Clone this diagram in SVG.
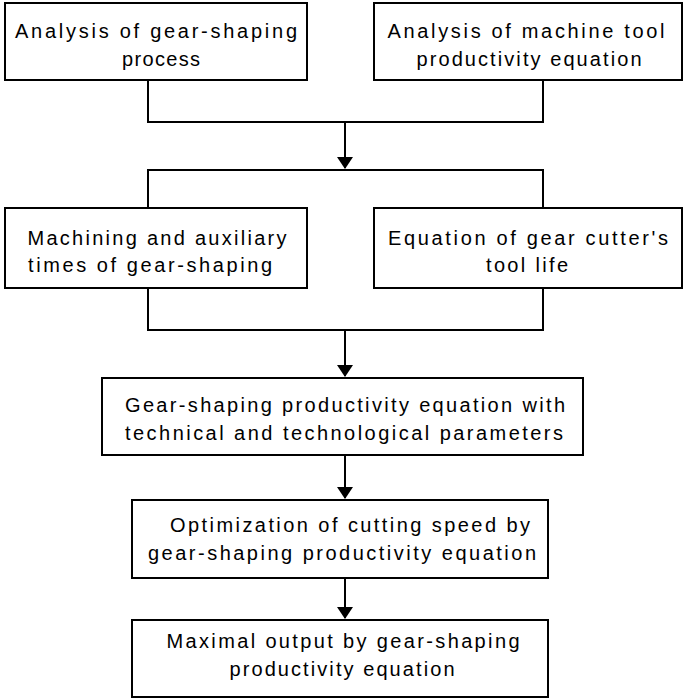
<svg xmlns="http://www.w3.org/2000/svg" width="685" height="700" viewBox="0 0 685 700">
<style>
rect{fill:#fff;stroke:#000;stroke-width:2}
text{font-family:"Liberation Sans",Arial,sans-serif;font-size:20px;text-anchor:middle;fill:#000}
.c{fill:none;stroke:#000;stroke-width:2}
</style>
<defs><marker id="a" markerWidth="12" markerHeight="16" refX="11" refY="8" orient="auto" markerUnits="userSpaceOnUse"><path d="M0,0L12,8L0,16z" fill="#000"/></marker></defs>
<rect width="685" height="700" style="stroke:none"/>
<g id="connectors">
<path class="c" d="M148,80V122H543V80M345,122V168" marker-end="url(#a)"/>
<path class="c" d="M148,208V170H543V208"/>
<path class="c" d="M148,288V330H543V288M345,330V376" marker-end="url(#a)"/>
<path class="c" d="M345,455V498" marker-end="url(#a)"/>
<path class="c" d="M345,578V618" marker-end="url(#a)"/>
</g>
<g id="n1"><rect x="5" y="3" width="302" height="77"/><text x="156" y="38" textLength="282" lengthAdjust="spacing">Analysis of gear-shaping</text><text x="161" y="66" textLength="78" lengthAdjust="spacing">process</text></g>
<g id="n2"><rect x="374" y="3" width="308" height="77"/><text x="526" y="38" textLength="277" lengthAdjust="spacing">Analysis of machine tool</text><text x="529" y="66" textLength="225" lengthAdjust="spacing">productivity equation</text></g>
<g id="n3"><rect x="5" y="208" width="302" height="80"/><text x="157" y="245" textLength="259" lengthAdjust="spacing">Machining and auxiliary</text><text x="150" y="272" textLength="244" lengthAdjust="spacing">times of gear-shaping</text></g>
<g id="n4"><rect x="374" y="208" width="308" height="80"/><text x="528" y="245" textLength="280" lengthAdjust="spacing">Equation of gear cutter's</text><text x="527" y="272" textLength="82" lengthAdjust="spacing">tool life</text></g>
<g id="n5"><rect x="102" y="378" width="481" height="77"/><text x="345" y="412" textLength="440" lengthAdjust="spacing">Gear-shaping productivity equation with</text><text x="344" y="440" textLength="438" lengthAdjust="spacing">technical and technological parameters</text></g>
<g id="n6"><rect x="132" y="500" width="416" height="78"/><text x="350" y="532" textLength="360" lengthAdjust="spacing">Optimization of cutting speed by</text><text x="342" y="560" textLength="388" lengthAdjust="spacing">gear-shaping productivity equation</text></g>
<g id="n7"><rect x="132" y="620" width="416" height="77"/><text x="343" y="648" textLength="353" lengthAdjust="spacing">Maximal output by gear-shaping</text><text x="342" y="676" textLength="225" lengthAdjust="spacing">productivity equation</text></g>
</svg>
